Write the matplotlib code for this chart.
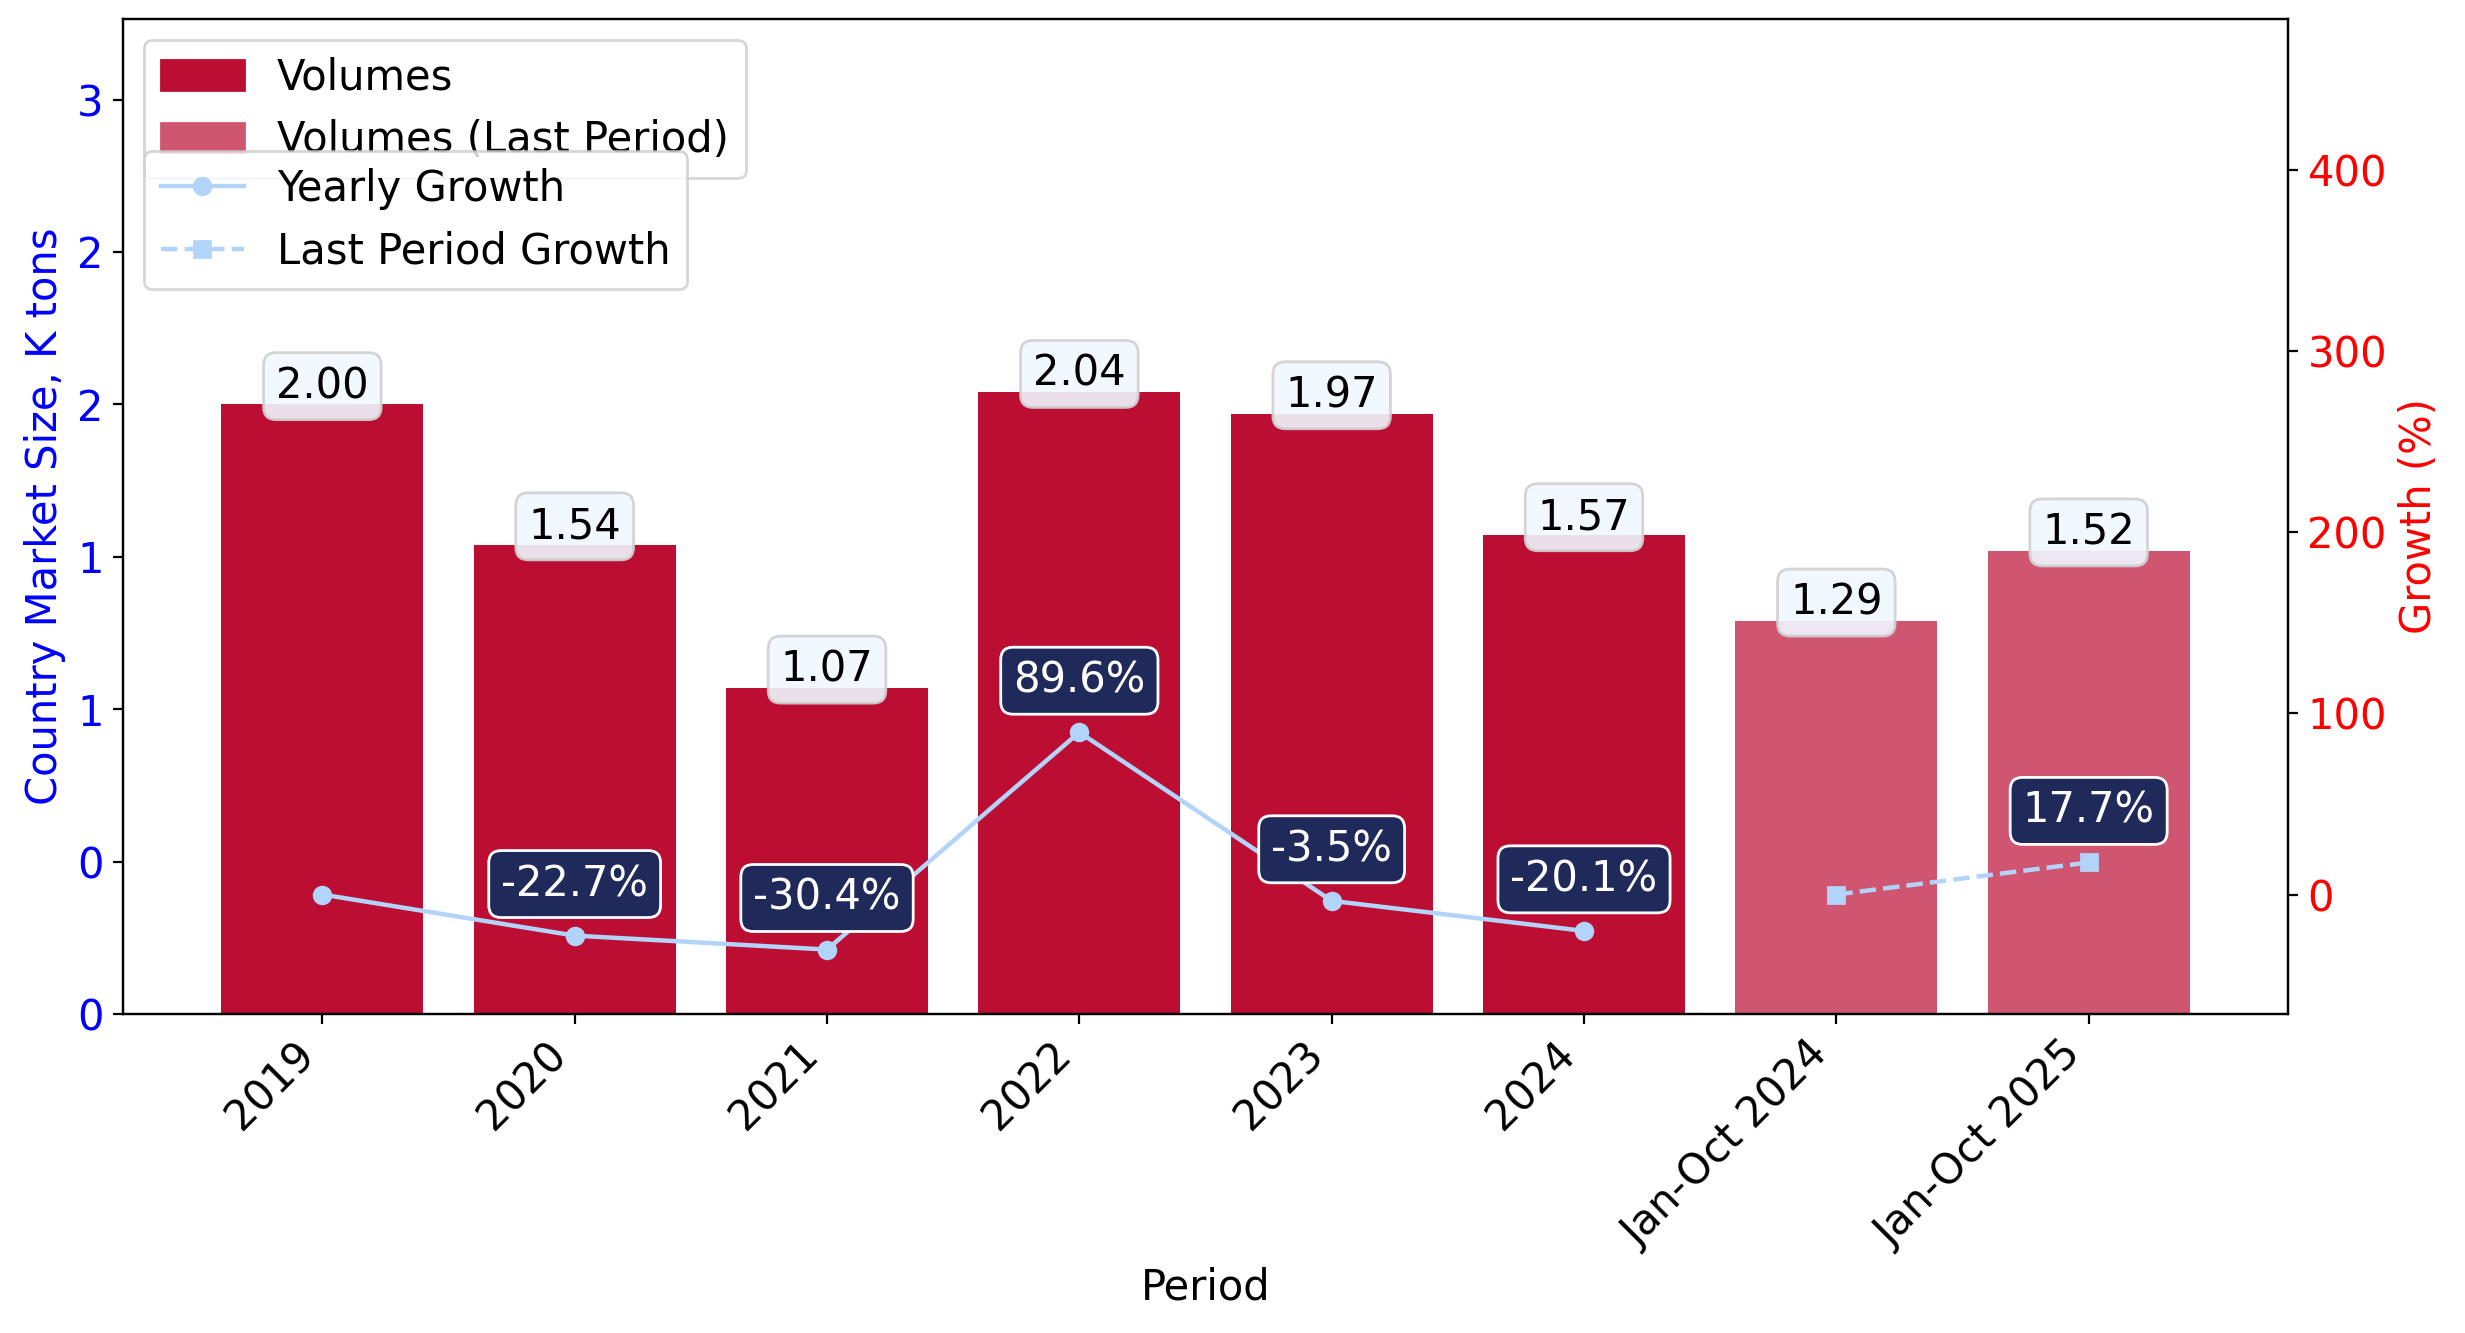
import matplotlib
matplotlib.use("Agg")
import matplotlib.pyplot as plt
from matplotlib.ticker import FuncFormatter, MultipleLocator
import numpy as np

periods = ["2019", "2020", "2021", "2022", "2023", "2024", "Jan-Oct 2024", "Jan-Oct 2025"]
volumes = [2.00, 1.54, 1.07, 2.04, 1.97, 1.57, 1.29, 1.52]
is_last_period = [False, False, False, False, False, False, True, True]
yearly_growth = [0.0, -22.7, -30.4, 89.6, -3.5, -20.1]
last_growth = [0.0, 17.7]

FS = 15
plt.rcParams['font.family'] = ['DejaVu Sans']
plt.rcParams['font.size'] = FS

bar_color = "#bc0d32"
last_color = "#d05570"
line_color = "#b3d4fa"
box_dark = "#1f2a5a"

fig = plt.figure(figsize=(12.325, 6.665), dpi=200)
ax1 = fig.add_axes([0.0499, 0.2393, 0.8783, 0.7464])
ax2 = ax1.twinx()

x = np.arange(len(periods))
colors = [last_color if lp else bar_color for lp in is_last_period]
bars = ax1.bar(x, volumes, width=0.8, color=colors)
h_vol = plt.Rectangle((0, 0), 1, 1, color=bar_color)
h_last = plt.Rectangle((0, 0), 1, 1, color=last_color)

for xi, v in zip(x, volumes):
    ax1.annotate(f"{v:.2f}", (xi, v), xytext=(0, -1), textcoords="offset points",
                 ha="center", va="bottom", fontsize=FS, color="black",
                 bbox=dict(boxstyle="round,pad=0.3", facecolor="#f0f8ff",
                           edgecolor="#d0d0d0", alpha=0.9))

ax1.set_ylim(0, 3.264)
ax1.yaxis.set_major_locator(MultipleLocator(0.5))
ax1.yaxis.set_major_formatter(FuncFormatter(lambda v, p: f"{int(v)}"))
ax1.tick_params(axis="y", labelcolor="blue", labelsize=FS)
ax1.set_ylabel("Country Market Size, K tons", color="blue", fontsize=FS)
ax1.set_xticks(x)
ax1.set_xticklabels(periods, rotation=45, ha="right", fontsize=FS)
ax1.set_xlabel("Period", fontsize=FS)

n_years = len(yearly_growth)
xl = x[:n_years]
xlp = x[n_years:]
l1, = ax2.plot(xl, yearly_growth, color=line_color, marker="o", markersize=6,
               linewidth=1.6, label="Yearly Growth")
l2, = ax2.plot(xlp, last_growth, color=line_color, marker="s", markersize=6,
               linewidth=1.6, linestyle="--", label="Last Period Growth")

for xi, g in list(zip(xl, yearly_growth))[1:] + list(zip(xlp, last_growth))[1:]:
    ax2.annotate(f"{g:.1f}%", (xi, g), xytext=(0, 11), textcoords="offset points",
                 ha="center", va="bottom", fontsize=FS, color="white",
                 bbox=dict(boxstyle="round,pad=0.3", facecolor=box_dark,
                           edgecolor="white", alpha=1.0))

ax2.set_ylim(-66, 483.5)
ax2.tick_params(axis="y", labelcolor="red", labelsize=FS)
ax2.set_ylabel("Growth (%)", color="red", fontsize=FS)

leg1 = ax2.legend([h_vol, h_last], ["Volumes", "Volumes (Last Period)"],
                  loc="upper left", fontsize=FS)
ax2.add_artist(leg1)
ax2.legend([l1, l2], ["Yearly Growth", "Last Period Growth"], loc="upper left",
           bbox_to_anchor=(0.0, 0.888), fontsize=FS)

fig.savefig("out.png", dpi=200)
